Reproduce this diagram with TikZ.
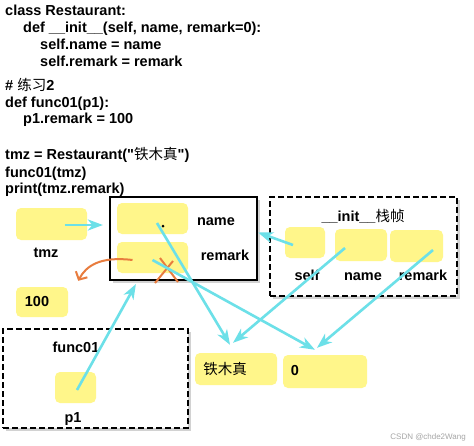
\documentclass[tikz,border=0pt]{standalone}
\usepackage{fontspec}
\setmainfont{Liberation Sans}[Ligatures=TeXOff]
\newfontfamily\cjk{Noto Sans CJK SC}
\usepackage{tikz}
\usetikzlibrary{arrows.meta}
\usetikzlibrary{shadows}
\definecolor{slotyellow}{RGB}{255,246,138}
\definecolor{refcyan}{RGB}{108,224,232}
\definecolor{oldorange}{RGB}{232,124,62}
\newcommand{\codefont}{\fontsize{14.5}{17}\selectfont\bfseries}
\tikzstyle{code}=[anchor=base west, inner sep=0pt, font=\codefont]
\tikzstyle{lbl}=[anchor=base, inner sep=0pt, font=\codefont]
\tikzstyle{slot}=[rounded corners=5pt, fill=slotyellow, inner sep=0pt]
\tikzstyle{obj}=[draw=black, line width=2.2pt, fill=white, inner sep=0pt, drop shadow={shadow xshift=2.5pt, shadow yshift=-2.5pt, opacity=0.35}]
\tikzstyle{frame}=[draw=black, line width=2.2pt, dash pattern=on 6pt off 3pt, fill=white, inner sep=0pt, drop shadow={shadow xshift=2.5pt, shadow yshift=-2.5pt, opacity=0.35}]
\tikzstyle{ref}=[-{Stealth[length=15pt, width=11pt, inset=4.5pt]}, draw=refcyan, line width=2.6pt]
\tikzstyle{oldref}=[-{Straight Barb[length=6pt, width=13pt]}, draw=oldorange, line width=2pt]
\tikzstyle{cross}=[draw=oldorange, line width=2pt]

\begin{document}
\begin{tikzpicture}[x=1pt, y=-1pt]
	\useasboundingbox[fill=white] (0,0) rectangle (474,445);
	% source code
	\draw (5,15) node[code] (c1) {class Restaurant:};
	\draw (23,32) node[code] (c2) {def \_\_init\_\_(self, name, remark=0):};
	\draw (40,49) node[code] (c3) {self.name = name};
	\draw (40,66) node[code] (c4) {self.remark = remark};
	\draw (5,90) node[code] (c5) {\# {\cjk\mdseries 练习}2};
	\draw (5,107) node[code] (c6) {def func01(p1):};
	\draw (23,123) node[code] (c7) {p1.remark = 100};
	\draw (5,159) node[code] (c8) {tmz = Restaurant("{\cjk\mdseries 铁木真}")};
	\draw (5,177) node[code] (c9) {func01(tmz)};
	\draw (5,193) node[code] (c10) {print(tmz.remark)};
	% frames
	\draw (183.5,238.5) node[obj, minimum width=147pt, minimum height=83pt] (obj) {};
	\draw (363.5,246.5) node[frame, minimum width=187pt, minimum height=99pt] (init) {};
	\draw (95.5,378.5) node[frame, minimum width=185pt, minimum height=99pt] (func) {};
	% slots
	\draw (51.5,224) node[slot, minimum width=71pt, minimum height=32pt] (tmzslot) {};
	\draw (42,302) node[slot, minimum width=52pt, minimum height=30pt] (hundred) {};
	\draw (152.5,218.5) node[slot, minimum width=71pt, minimum height=31pt] (objname) {};
	\draw (152.5,257.5) node[slot, minimum width=71pt, minimum height=31pt] (objremark) {};
	\draw (305,242.5) node[slot, minimum width=40pt, minimum height=31pt] (initself) {};
	\draw (361,245) node[slot, minimum width=52pt, minimum height=32pt] (initname) {};
	\draw (416.5,246) node[slot, minimum width=53pt, minimum height=32pt] (initremark) {};
	\draw (75.5,387.5) node[slot, minimum width=41pt, minimum height=31pt] (p1slot) {};
	\draw (236,369) node[slot, minimum width=82pt, minimum height=32pt] (tmj) {};
	\draw (325,371.5) node[slot, minimum width=84pt, minimum height=33pt] (zero) {};
	% labels
	\draw (46,257) node[lbl] (ltmz) {tmz};
	\draw (37,306) node[lbl] (l100) {100};
	\draw (216,225) node[lbl] (lname) {name};
	\draw (225,260) node[lbl] (lremark) {remark};
	\draw (363,221) node[lbl] (linit) {\_\_init\_\_{\cjk\mdseries 栈帧}};
	\draw (307,280) node[lbl] (lself) {self};
	\draw (363,280) node[lbl] (liname) {name};
	\draw (423,280) node[lbl] (liremark) {remark};
	\draw (76,352) node[lbl] (lfunc) {func01};
	\draw (73,422) node[lbl] (lp1) {p1};
	\draw (225,374) node[lbl] (ltmj) {{\cjk\mdseries 铁木真}};
	\draw (295,375) node[lbl] (lzero) {0};
	\draw (466,439) node[anchor=base east, inner sep=0pt, font=\fontsize{8}{9}\selectfont, text=black!35] (mark) {CSDN @chde2Wang};
	% old value
	\draw[oldref] ([xshift=-20pt,yshift=-2.5pt]objremark.center) .. controls (100,256) and (86,266) .. ([xshift=10pt,yshift=6pt]hundred.north east);
	\draw[cross] (155,283) -- (173,261);
	\draw[cross] (160,258) -- (178,282);
	\fill (163,226) circle (1.5pt);
	% references
	\draw[ref] ([xshift=13pt,yshift=-1pt]tmzslot.center) -- ([xshift=-6pt,yshift=13.5pt]obj.west);
	\draw[ref] ([xshift=-12pt,yshift=-2.5pt]initself.center) -- ([yshift=6pt]obj.east);
	\draw[ref] ([xshift=1.5pt,yshift=-2.5pt]p1slot.center) -- ([xshift=27pt,yshift=-3pt]obj.south west);
	\draw[ref] ([xshift=4.5pt,yshift=-4.5pt]objname.center) -- ([xshift=-6pt,yshift=8pt]tmj.north);
	\draw[ref] ([xshift=0pt,yshift=-2.5pt]objremark.center) -- ([xshift=-10pt,yshift=5pt]zero.north);
	\draw[ref] ([xshift=-16pt,yshift=-3pt]initname.center) -- ([xshift=-3pt,yshift=10pt]tmj.north);
	\draw[ref] ([xshift=16.5pt,yshift=-4pt]initremark.center) -- ([xshift=-8pt,yshift=7pt]zero.north);
\end{tikzpicture}
\end{document}
